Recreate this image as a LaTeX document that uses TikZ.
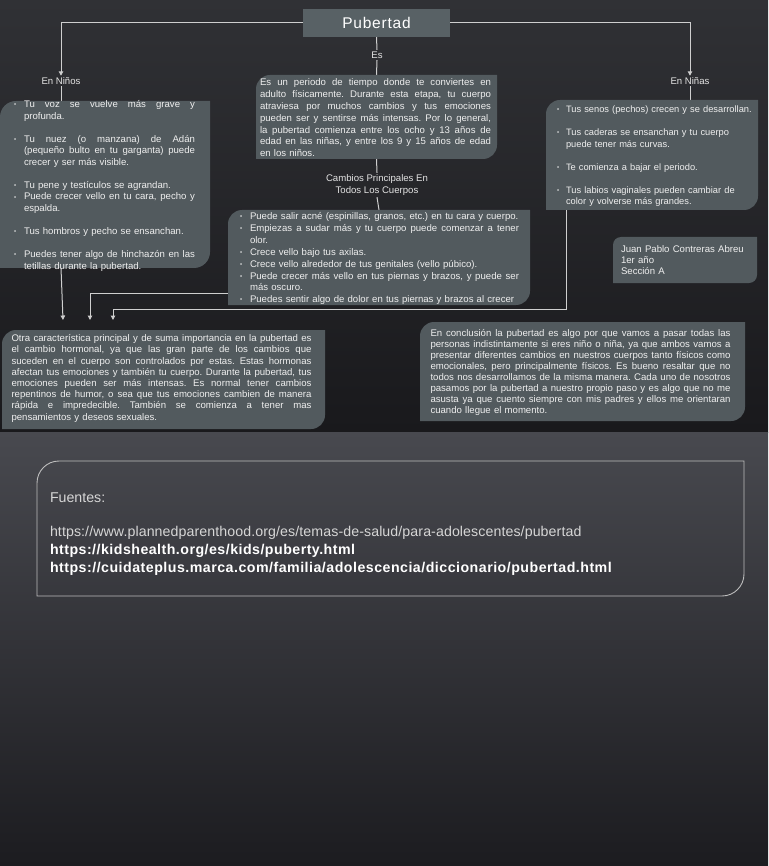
\documentclass[tikz,border=0pt]{standalone}
\usepackage{fontspec}
\setmainfont{Liberation Sans}
\frenchspacing
\usetikzlibrary{arrows.meta,calc}
\definecolor{bgA}{HTML}{303135}
\definecolor{bgB}{HTML}{19191C}
\definecolor{bgC}{HTML}{48494F}
\definecolor{bgD}{HTML}{1C1C20}
\definecolor{boxc}{HTML}{525A5E}
\definecolor{titlec}{HTML}{586165}
\definecolor{txtc}{HTML}{EFEFEF}
\definecolor{lblc}{HTML}{E4E4E4}
\definecolor{linec}{HTML}{CFCFCF}
\definecolor{srcc}{HTML}{D6D6D6}
\definecolor{srcline}{HTML}{BDBDBD}
\newlength\hg
\newlength\lw
\newcommand\bul{{\fontsize{6}{6}\selectfont\raisebox{0.9pt}{•}}}
\newcommand\stretchsp{\spaceskip=0.278em plus 1.5em minus 0.06em\relax}
\newcommand\jln[1]{\leavevmode\hbox to\lw{\stretchsp#1}}
\newcommand\bjln[1]{\leavevmode\makebox[\hg][l]{\bul}\hbox to\dimexpr\lw-\hg\relax{\stretchsp#1}}
\newcommand\bln[1]{\leavevmode\makebox[\hg][l]{\bul}#1}
\newcommand\hjln[1]{\leavevmode\hspace*{\hg}\hbox to\dimexpr\lw-\hg\relax{\stretchsp#1}}
\newcommand\hln[1]{\leavevmode\hspace*{\hg}#1}
\newcommand\diagfill[3][fill=boxc]{\path[#1] (#2.south west) -- ([yshift=-#3]#2.north west) arc[start angle=180,end angle=90,radius=#3] -- (#2.north east) -- ([yshift=#3]#2.south east) arc[start angle=0,end angle=-90,radius=#3] -- cycle;}
\tikzset{
  conn/.style={draw=linec, line width=1pt},
  arr/.style={conn, -{Triangle[length=4.5pt,width=4.5pt]}},
  boxarea/.style={inner sep=0pt, outer sep=0pt, anchor=north west},
  lbl/.style={text=lblc, font=\fontsize{9.6}{12}\selectfont, align=center, inner sep=1.5pt},
  txt/.style={text=txtc, inner sep=0pt, outer sep=0pt, anchor=north west, align=left, text width=420pt},
}
\begin{document}
\begin{tikzpicture}[x=1pt,y=1pt]
\useasboundingbox (0,0) rectangle (768,-866);
% background
\fill[top color=bgA, bottom color=bgB] (0,0) rectangle (768,-432);
\fill[top color=bgC, bottom color=bgD] (0,-432) rectangle (768,-866);

% title
\node[fill=titlec, minimum width=147pt, minimum height=28pt, inner sep=0pt, text=white,
      font=\fontsize{15.5}{18}\selectfont\addfontfeatures{LetterSpace=5}] (title) at (376.5,-23) {Pubertad};

% labels
\node[lbl] (ninos) at (61,-81) {En Niños};
\node[lbl] (ninas) at (690,-81) {En Niñas};
\node[lbl] (es) at (377,-55) {Es};
\node[lbl] (cambios) at (377,-185) {Cambios Principales En\\Todos Los Cuerpos};

% box areas
\node[boxarea, minimum width=241pt, minimum height=84pt] (mid) at (256,-75) {};
\node[boxarea, minimum width=302pt, minimum height=95pt] (box2) at (228,-210) {};
\node[boxarea, minimum width=210pt, minimum height=167pt] (left) at (0,-101) {};
\node[boxarea, minimum width=212pt, minimum height=110pt] (right) at (546,-100) {};
\node[boxarea, minimum width=144pt, minimum height=46pt] (juan) at (613,-237) {};
\node[boxarea, minimum width=323pt, minimum height=99pt] (bl) at (2,-330) {};
\node[boxarea, minimum width=325pt, minimum height=99pt] (br) at (420,-322) {};
\node[boxarea, minimum width=707pt, minimum height=135pt] (src) at (37,-461) {};

% connectors
\draw[arr] (title.west) -| (ninos.north);
\draw[arr] (title.east) -| (ninas.north);
\draw[conn] (ninos.south) -- (ninos.south |- left.north);
\draw[conn] (ninas.south) -- (ninas.south |- right.north);
\draw[conn] (title.south) -- (es.north);
\draw[conn] (es.south) -- (mid.north);
\draw[conn] (mid.south) -- (cambios.north);
\draw[conn] (cambios.south) -- (box2.north);
\coordinate (a1) at (63,-320);
\coordinate (a2) at (90,-320);
\coordinate (a3) at (113,-320);
\coordinate (k3) at (113,-309);
\draw[arr] (ninos.south |- left.south) -- (a1);
\draw[arr] ([yshift=12pt]box2.south west) -| (a2);
\draw[arr] ([xshift=20pt]right.south west) |- (k3) -- (a3);

% box shapes
\diagfill{mid}{14pt}
\diagfill{box2}{14pt}
\diagfill{left}{16pt}
\diagfill{right}{14pt}
\diagfill{juan}{8pt}
\diagfill{bl}{14pt}
\diagfill{br}{14pt}
\diagfill[draw=srcline, line width=0.9pt]{src}{22pt}

% texts
\node[txt, font=\fontsize{9.6}{11.8}\selectfont] (midtxt) at (260,-77.7) {\setlength\lw{231pt}\strut\jln{Es un periodo de tiempo donde te conviertes en}\\
\jln{adulto físicamente. Durante esta etapa, tu cuerpo}\\
\jln{atraviesa por muchos cambios y tus emociones}\\
\jln{pueden ser y sentirse más intensas. Por lo general,}\\
\jln{la pubertad comienza entre los ocho y 13 años de}\\
\jln{edad en las niñas, y entre los 9 y 15 años de edad}\\
en los niños.};

\node[txt, font=\fontsize{9.6}{11.85}\selectfont] (box2txt) at (240,-211.5) {\setlength\lw{279pt}\setlength\hg{10pt}\strut\bln{Puede salir acné (espinillas, granos, etc.) en tu cara y cuerpo.}\\
\bjln{Empiezas a sudar más y tu cuerpo puede comenzar a tener}\\
\hln{olor.}\\
\bln{Crece vello bajo tus axilas.}\\
\bln{Crece vello alrededor de tus genitales (vello púbico).}\\
\bjln{Puede crecer más vello en tus piernas y brazos, y puede ser}\\
\hln{más oscuro.}\\
\bln{Puedes sentir algo de dolor en tus piernas y brazos al crecer}};

\node[txt, font=\fontsize{9.6}{11.55}\selectfont] (lefttxt) at (14,-99.5) {\setlength\lw{181pt}\setlength\hg{10pt}\strut\bjln{Tu voz se vuelve más grave y}\\
\hln{profunda.}\\[11.55pt]
\bjln{Tu nuez (o manzana) de Adán}\\
\hjln{(pequeño bulto en tu garganta) puede}\\
\hln{crecer y ser más visible.}\\[11.55pt]
\bln{Tu pene y testículos se agrandan.}\\
\bjln{Puede crecer vello en tu cara, pecho y}\\
\hln{espalda.}\\[11.55pt]
\bln{Tus hombros y pecho se ensanchan.}\\[11.55pt]
\bjln{Puedes tener algo de hinchazón en las}\\
\hln{tetillas durante la pubertad.}};

\node[txt, font=\fontsize{9.3}{11.5}\selectfont] (righttxt) at (557,-104.6) {\setlength\hg{9pt}\strut\bln{Tus senos (pechos) crecen y se desarrollan.}\\[11.5pt]
\bln{Tus caderas se ensanchan y tu cuerpo}\\
\hln{puede tener más curvas.}\\[11.5pt]
\bln{Te comienza a bajar el periodo.}\\[11.5pt]
\bln{Tus labios vaginales pueden cambiar de}\\
\hln{color y volverse más grandes.}};

\node[txt, font=\fontsize{9.6}{11.1}\selectfont] (juantxt) at (621,-244.9) {\strut Juan Pablo Contreras Abreu\\1er año\\Sección A};

\node[txt, font=\fontsize{9.6}{11.2}\selectfont] (bltxt) at (11.5,-333.8) {\setlength\lw{300pt}\strut\jln{Otra característica principal y de suma importancia en la pubertad es}\\
\jln{el cambio hormonal, ya que las gran parte de los cambios que}\\
\jln{suceden en el cuerpo son controlados por estas. Estas hormonas}\\
\jln{afectan tus emociones y también tu cuerpo. Durante la pubertad, tus}\\
\jln{emociones pueden ser más intensas. Es normal tener cambios}\\
\jln{repentinos de humor, o sea que tus emociones cambien de manera}\\
\jln{rápida e impredecible. También se comienza a tener mas}\\
pensamientos y deseos sexuales.};

\node[txt, font=\fontsize{9.6}{11.05}\selectfont] (brtxt) at (430.5,-328.3) {\setlength\lw{300pt}\strut\jln{En conclusión la pubertad es algo por que vamos a pasar todas las}\\
\jln{personas indistintamente si eres niño o niña, ya que ambos vamos a}\\
\jln{presentar diferentes cambios en nuestros cuerpos tanto físicos como}\\
\jln{emocionales, pero principalmente físicos. Es bueno resaltar que no}\\
\jln{todos nos desarrollamos de la misma manera. Cada uno de nosotros}\\
\jln{pasamos por la pubertad a nuestro propio paso y es algo que no me}\\
\jln{asusta ya que cuento siempre con mis padres y ellos me orientaran}\\
cuando llegue el momento.};

\node[txt, text=srcc, text width=700pt, font=\fontsize{14.2}{18}\selectfont] (srctxt) at (50,-489.4) {\strut Fuentes:\\[16pt]
{\addfontfeatures{LetterSpace=0.6}https://www.plannedparenthood.org/es/temas-de-salud/para-adolescentes/pubertad}\\
{\bfseries\color{white}\addfontfeatures{LetterSpace=3.3}https://kidshealth.org/es/kids/puberty.html}\\
{\bfseries\color{white}\addfontfeatures{LetterSpace=3.4}https://cuidateplus.marca.com/familia/adolescencia/diccionario/pubertad.html}};
\end{tikzpicture}
\end{document}
